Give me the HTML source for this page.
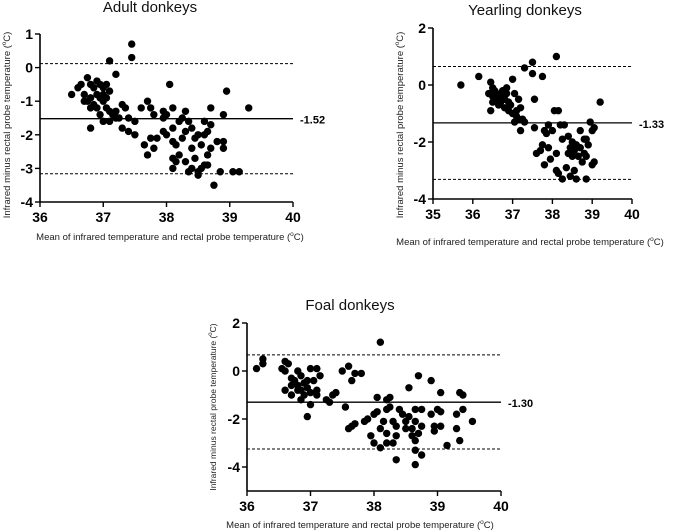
<!DOCTYPE html>
<html><head><meta charset="utf-8"><style>
html,body{margin:0;padding:0;background:#fff;}
svg{display:block;font-family:"Liberation Sans",Arial,sans-serif;}
</style></head><body>
<svg id="fig" width="685" height="531" viewBox="0 0 685 531"></svg>
<script>
const adultX=[37.45,37.45,37.1,37.2,36.5,36.6,36.65,36.7,36.75,36.8,36.85,36.9,36.95,37.0,37.05,36.75,36.8,36.85,36.9,36.95,37.0,37.05,37.1,36.7,36.8,36.9,37.0,37.05,36.95,37.0,37.1,37.15,37.2,37.25,37.3,37.35,37.4,37.3,37.4,37.5,37.5,36.8,37.1,37.2,37.6,37.7,37.75,37.8,37.65,37.7,37.75,37.8,37.85,37.95,38.0,37.95,37.95,38.0,38.05,38.1,38.1,38.1,38.15,38.2,38.25,38.25,38.3,38.3,38.35,38.4,38.45,38.5,38.6,38.65,38.7,38.7,38.9,38.95,39.3,38.1,38.1,38.15,38.2,38.3,38.35,38.4,38.4,38.45,38.5,38.55,38.55,38.6,38.65,38.7,38.65,38.75,38.8,38.85,38.9,38.9,39.05,39.15,38.6,38.5];
const adultY=[0.7,0.3,0.2,-0.2,-0.8,-0.6,-0.5,-0.8,-0.3,-0.5,-0.6,-0.4,-0.5,-0.6,-0.5,-1.0,-0.9,-1.1,-0.8,-0.9,-0.8,-0.9,-0.7,-1.0,-1.2,-1.2,-1.0,-1.2,-1.4,-1.6,-1.6,-1.4,-1.3,-1.5,-1.1,-1.2,-1.5,-1.8,-1.9,-1.6,-2.0,-1.8,-1.3,-1.5,-1.2,-1.0,-1.2,-1.4,-2.3,-2.6,-2.1,-2.4,-2.1,-1.3,-1.4,-1.5,-1.9,-2.0,-0.5,-1.2,-1.8,-2.2,-2.3,-1.6,-1.5,-2.1,-1.3,-1.9,-1.6,-1.8,-2.1,-2.0,-1.6,-1.9,-1.7,-1.2,-1.4,-0.7,-1.2,-2.7,-3.0,-2.8,-2.6,-2.8,-3.1,-3.0,-2.4,-2.7,-3.2,-3.0,-2.3,-2.9,-2.6,-2.4,-2.9,-3.5,-2.2,-3.1,-2.2,-2.4,-3.1,-3.1,-2.0,-3.1];
const yearX=[35.7,36.15,36.4,36.45,36.5,36.5,36.55,36.5,36.45,36.6,36.6,36.65,36.7,36.7,36.75,36.8,36.8,36.85,36.85,36.9,36.9,36.95,37.0,37.0,37.05,37.05,37.1,37.1,37.15,37.15,37.2,37.2,37.25,37.3,37.3,37.5,37.5,37.55,37.55,37.75,37.6,37.7,37.75,37.8,37.8,37.85,37.9,37.9,37.95,38.0,38.05,38.1,38.15,38.1,38.1,38.15,38.2,38.25,38.25,38.3,38.35,38.4,38.4,38.45,38.45,38.5,38.5,38.55,38.55,38.6,38.6,38.65,38.7,38.7,38.75,38.8,38.8,38.85,38.85,38.9,38.95,39.0,39.0,39.05,39.05,39.2,38.85];
const yearY=[0.0,0.3,-0.3,0.1,-0.1,-0.4,-0.2,-0.6,-0.9,-0.5,-0.3,-0.7,-0.4,-0.6,-0.2,-0.5,-0.8,-0.3,-0.1,-0.6,-0.9,-0.7,-1.0,0.2,-0.3,-1.3,-0.9,-1.1,-0.5,-1.2,-0.8,-1.6,-1.2,-1.3,0.6,0.8,0.4,-0.5,-1.5,0.3,-2.4,-2.3,-2.1,-1.6,-2.8,-1.7,-1.4,-2.2,-2.6,-1.6,-0.9,1.0,-0.9,-2.4,-3.0,-3.1,-1.4,-1.9,-3.3,-1.4,-2.9,-1.8,-2.4,-3.2,-2.2,-2.0,-2.5,-3.0,-2.3,-3.3,-2.1,-2.5,-2.2,-1.6,-2.7,-1.9,-2.4,-3.3,-2.5,-2.1,-1.3,-2.8,-1.6,-1.5,-2.7,-0.6,-1.9];
const foalX=[36.15,36.25,36.25,36.55,36.6,36.65,36.6,36.6,36.7,36.7,36.75,36.8,36.8,36.85,36.85,36.9,36.9,36.95,36.95,37.0,37.0,37.05,37.1,37.1,37.1,37.15,37.0,36.95,36.7,36.8,36.85,37.25,37.3,37.35,37.4,37.5,37.55,37.6,37.65,37.7,37.8,37.6,37.65,37.7,37.85,37.9,37.95,38.0,38.0,38.05,38.05,38.1,38.1,38.1,38.15,38.2,38.2,38.2,38.2,38.25,38.25,38.3,38.3,38.35,38.35,38.35,38.4,38.45,38.5,38.5,38.55,38.55,38.6,38.6,38.65,38.7,38.65,38.65,38.65,38.65,38.7,38.75,38.75,38.75,38.9,38.9,38.95,38.95,39.0,39.05,39.05,39.05,39.15,39.3,39.3,39.35,39.35,39.4,39.4,39.55];
const foalY=[0.1,0.3,0.5,0.1,0.4,0.3,0.0,-0.8,-0.3,-0.6,-0.4,0.0,-0.6,-0.2,-0.8,-0.5,-1.0,-0.7,-0.4,-0.9,0.1,-0.4,0.1,-0.8,-1.0,-0.2,-1.4,-1.9,-1.0,-0.8,-1.2,-1.2,-1.3,-1.0,-0.9,0.0,-1.5,0.2,-0.4,-0.1,-0.1,-2.4,-2.3,-2.2,-2.1,-2.0,-2.7,-1.8,-3.0,-1.1,-1.7,-2.4,1.2,-3.2,-2.1,-1.2,-1.6,-2.6,-3.0,-1.1,-1.5,-2.1,-3.0,-2.3,-2.7,-3.7,-1.6,-1.8,-2.1,-2.4,-0.7,-1.9,-2.7,-2.4,-1.6,-0.2,-2.1,-2.9,-3.3,-3.9,-2.6,-1.6,-2.3,-3.5,-0.4,-1.8,-2.3,-2.5,-1.6,-0.9,-1.7,-2.3,-3.1,-1.8,-2.4,-0.9,-2.9,-1.0,-1.6,-2.1];
const adultLines=[-1.52,0.12,-3.16];
const yearLines=[-1.33,0.65,-3.31];
const foalLines=[-1.30,0.67,-3.25];
const adultXTicks=[36,37,38,39,40], adultYTicks=[1,0,-1,-2,-3,-4];
const yearXTicks=[35,36,37,38,39,40], yearYTicks=[2,0,-2,-4];
const foalXTicks=[36,37,38,39,40], foalYTicks=[2,0,-2,-4];

const NS='http://www.w3.org/2000/svg';
const svg=document.getElementById('fig');
function mk(tag,attrs,parent,text){const e=document.createElementNS(NS,tag);for(const k in attrs)e.setAttribute(k,attrs[k]);if(text!==undefined)e.textContent=text;(parent||svg).appendChild(e);return e;}

function panel(o){
  const g=mk('g',{});
  
  
  const sx=v=>o.px0+(v-o.x0)/(o.x1-o.x0)*(o.px1-o.px0);
  const sy=v=>o.py0-(v-o.y0)/(o.y1-o.y0)*(o.py0-o.py1);
  const t=mk('text',{x:o.tx,y:o.ty,'font-size':15,'text-anchor':'middle',fill:'#111'},g,o.title);
  
  
  const ya=mk('line',{x1:o.px0,y1:o.py0,x2:o.px0,y2:o.py1,stroke:'#000','stroke-width':1.6},g);
  
  
  const xa=mk('line',{x1:o.px0,y1:o.py0,x2:o.px1,y2:o.py0,stroke:'#000','stroke-width':1.6},g);
  
  
  o.xt.forEach(v=>{
    mk('line',{x1:sx(v),y1:o.py0,x2:sx(v),y2:o.py0+5,stroke:'#000','stroke-width':1.4},g);
    const l=mk('text',{x:sx(v),y:o.py0+20,'font-size':14,'font-weight':'bold','text-anchor':'middle'},g,String(v));
    
    
  });
  o.yt.forEach(v=>{
    mk('line',{x1:o.px0-5,y1:sy(v),x2:o.px0,y2:sy(v),stroke:'#000','stroke-width':1.4},g);
    const l=mk('text',{x:o.px0-7,y:sy(v)+5,'font-size':14,'font-weight':'bold','text-anchor':'end'},g,String(v));
    
    
  });
  const m=mk('line',{x1:o.px0,y1:sy(o.lines[0]),x2:o.px1,y2:sy(o.lines[0]),stroke:'#000','stroke-width':1.3},g);
  
  
  for(let i=1;i<3;i++){
    const d=mk('line',{x1:o.px0,y1:sy(o.lines[i]),x2:o.px1,y2:sy(o.lines[i]),stroke:'#000','stroke-width':1,'stroke-dasharray':'3,2'},g);
    
    
  }
  const ml=mk('text',{x:o.px1+7,y:sy(o.lines[0])+5,'font-size':11,'font-weight':'bold'},g,o.lines[0].toFixed(2));
  
  
  o.xs.forEach((xv,i)=>{
    const c=mk('circle',{cx:sx(xv),cy:sy(o.ys[i]),r:3.7,fill:'#000'},g);
    
    
  });
  const xt=mk('text',{x:o.xtx,y:o.xty,'font-size':9.5,'text-anchor':'middle',fill:'#222'},g);
  
  
  xt.innerHTML='Mean of infrared temperature and rectal probe temperature (<tspan dy="-4" font-size="6.5">o</tspan><tspan dy="4">C)</tspan>';
  const yt=mk('text',{x:0,y:0,'font-size':o.yfs,'text-anchor':'middle',fill:'#222',transform:`translate(${o.ytx},${o.yty}) rotate(-90)`},g);
  
  
  yt.innerHTML='Infrared minus rectal probe temperature (<tspan dy="-4" font-size="6">o</tspan><tspan dy="4">C)</tspan>';
}

panel({name:'adult',title:'Adult donkeys',tx:150,ty:12,x0:36,x1:40,y0:-4,y1:1,px0:40,px1:293,py0:202,py1:34,
  xt:adultXTicks,yt:adultYTicks,lines:adultLines,xs:adultX,ys:adultY,xtx:170,xty:240,ytx:10,yty:125,yfs:9.5});
panel({name:'yearling',title:'Yearling donkeys',tx:525,ty:15,x0:35,x1:40,y0:-4,y1:2,px0:433,px1:632,py0:199,py1:28,
  xt:yearXTicks,yt:yearYTicks,lines:yearLines,xs:yearX,ys:yearY,xtx:530,xty:245,ytx:403,yty:125,yfs:9.5});
panel({name:'foal',title:'Foal donkeys',tx:350,ty:310,x0:36,x1:40,y0:-5,y1:2,px0:247,px1:501,py0:491,py1:323,
  xt:foalXTicks,yt:foalYTicks,lines:foalLines,xs:foalX,ys:foalY,xtx:360,xty:528,ytx:216,yty:407,yfs:8.5});
</script>
</body></html>
